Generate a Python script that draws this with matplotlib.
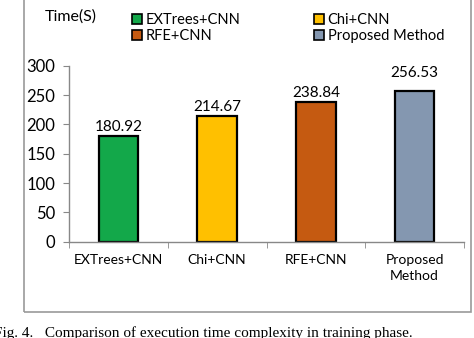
import matplotlib.pyplot as plt
from matplotlib.patches import Rectangle, Patch

plt.rcParams['font.family'] = ['Lato', 'DejaVu Sans']

# data
methods = ['EXTrees+CNN', 'Chi+CNN', 'RFE+CNN', 'Proposed Method']
tick_labels = ['EXTrees+CNN', 'Chi+CNN', 'RFE+CNN', 'Proposed\nMethod']
times = [180.92, 214.67, 238.84, 256.53]
colors = ['#13A84A', '#FFC000', '#C55A11', '#8497B0']
label_offsets = [1, 1, 1, 8]  # points above bar top

fig = plt.figure(figsize=(4.74, 3.38), dpi=100)
ax = fig.add_axes([0.1456, 0.2849, 0.979 - 0.1456, 0.8056 - 0.2849])

x = list(range(len(methods)))
bars = ax.bar(x, times, width=0.4, color=colors, edgecolor='black', linewidth=1.6)

for b, v, off in zip(bars, times, label_offsets):
    ax.annotate(f'{v:.2f}', (b.get_x() + b.get_width() / 2, v),
                xytext=(0, off), textcoords='offset points',
                ha='center', va='bottom', fontsize=11)

ax.set_xlim(-0.5, len(methods) - 0.5)
ax.set_ylim(0, 300)
ax.set_yticks(range(0, 301, 50))
ax.set_xticks(x)
ax.set_xticklabels(tick_labels, linespacing=1.4)
ax.set_xticks([i + 0.5 for i in range(-1, len(methods))], minor=True)
ax.tick_params(axis='x', which='major', length=0, pad=9, labelsize=10)
ax.tick_params(axis='x', which='minor', length=4, color='#888888')
ax.tick_params(axis='y', length=4, pad=6, color='#888888', labelsize=12)

for s in ['top', 'right']:
    ax.spines[s].set_visible(False)
for s in ['left', 'bottom']:
    ax.spines[s].set_color('#888888')
    ax.spines[s].set_linewidth(1.0)

# outer frame
fig.patches.append(Rectangle((24 / 474, 1 - 312 / 338), 447 / 474, 1.0,
                             transform=fig.transFigure, fill=False,
                             edgecolor='#999999', linewidth=1.2))

fig.text(45 / 474, 1 - 17 / 338, 'Time(S)', fontsize=11.5, va='center', ha='left')

order = [0, 2, 1, 3]
handles = [Patch(facecolor=colors[i], edgecolor='black', linewidth=1.2) for i in order]
fig.legend(handles, [methods[i] for i in order], ncol=2, frameon=False,
           loc='upper left', bbox_to_anchor=(122 / 474, 1 - 3 / 338),
           fontsize=10.5, handlelength=0.7, handleheight=0.7, handletextpad=0.25,
           labelspacing=0.15, columnspacing=5.0, borderpad=0.2)

fig.text(-0.012, 1 - 326 / 338,
         'Fig. 4.   Comparison of execution time complexity in training phase.',
         fontsize=11, family='Liberation Serif', va='top', ha='left')

fig.savefig('out.png', dpi=100)
